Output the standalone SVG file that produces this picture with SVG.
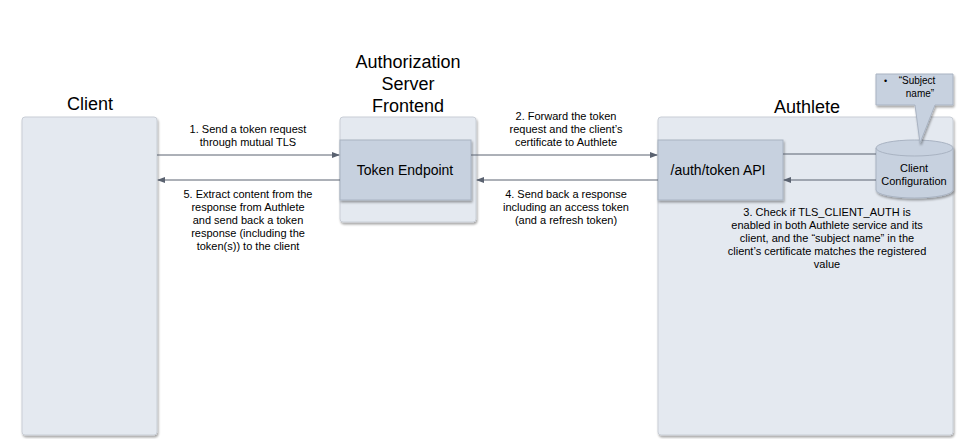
<svg xmlns="http://www.w3.org/2000/svg" width="962" height="439" viewBox="0 0 962 439">
<style>
text{font-family:"Liberation Sans",Arial,sans-serif;fill:#000}
.t{font-size:18px;text-anchor:middle}
.s{font-size:11px;text-anchor:middle}
.big{fill:#e4e9f0;stroke:#c9ced6;stroke-width:1}
.inner{fill:#c7d1df;stroke:#a9b3c2;stroke-width:1}
.c{stroke:#5a6270;stroke-width:1;fill:none}
</style>
<defs>
<marker id="a" markerWidth="8" markerHeight="6" refX="7" refY="3" orient="auto"><path d="M0,0L8,3L0,6z" fill="#5a6270"/></marker>
<filter id="sh"><feDropShadow dx="1" dy="2" stdDeviation="1.2" flood-opacity="0.35"/></filter>
</defs>
<rect width="962" height="439" fill="#fff"/>
<g id="client">
<rect class="big" x="22" y="117" width="135" height="318" rx="3" filter="url(#sh)"/>
<text class="t" x="90" y="110">Client</text>
</g>
<g id="frontend">
<rect class="big" x="340" y="117" width="136" height="105" rx="3" filter="url(#sh)"/>
<text class="t" x="408" y="68">Authorization</text>
<text class="t" x="408" y="90">Server</text>
<text class="t" x="408" y="112">Frontend</text>
</g>
<g id="token-endpoint">
<rect class="inner" x="340" y="140" width="131" height="60" filter="url(#sh)"/>
<text x="405" y="175" font-size="14" text-anchor="middle">Token Endpoint</text>
</g>
<g id="authlete">
<rect class="big" x="658" y="117" width="295" height="318" rx="3" filter="url(#sh)"/>
<text class="t" x="807" y="113">Authlete</text>
</g>
<g id="auth-token-api">
<rect class="inner" x="658" y="140" width="125" height="60" filter="url(#sh)"/>
<text x="718" y="175" font-size="14" text-anchor="middle">/auth/token API</text>
</g>
<g id="client-config">
<path d="M876,148 A38.5,8 0 0 1 953,148 L953,190 A38.5,8 0 0 1 876,190 Z" class="inner" filter="url(#sh)"/>
<path d="M876,148 A38.5,8 0 0 0 953,148" fill="none" stroke="#a9b3c2"/>
<text class="s" x="914" y="172" font-size="10">Client</text>
<text class="s" x="914" y="185" font-size="10">Configuration</text>
</g>
<g id="callout">
<path d="M876,74 H953 V105 H935 L920,143 L915,105 H876 Z" class="inner" filter="url(#sh)"/>
<text x="884" y="84" font-size="9">•</text>
<text x="917" y="84" font-size="10" text-anchor="middle">“Subject</text>
<text x="920" y="97" font-size="10" text-anchor="middle">name”</text>
</g>
<g id="connectors">
<line class="c" x1="157" y1="155" x2="339" y2="155" marker-end="url(#a)"/>
<line class="c" x1="340" y1="180" x2="158" y2="180" marker-end="url(#a)"/>
<line class="c" x1="471" y1="155" x2="657" y2="155" marker-end="url(#a)"/>
<line class="c" x1="658" y1="180" x2="477" y2="180" marker-end="url(#a)"/>
<polyline class="c" points="783,154 876,154"/>
<line class="c" x1="876" y1="180" x2="784" y2="180" marker-end="url(#a)"/>
</g>
<g id="labels">
<text class="s" x="248" y="133">1. Send a token request</text>
<text class="s" x="248" y="146">through mutual TLS</text>
<text class="s" x="248" y="198">5. Extract content from the</text>
<text class="s" x="248" y="211">response from Authlete</text>
<text class="s" x="248" y="224">and send back a token</text>
<text class="s" x="248" y="237">response (including the</text>
<text class="s" x="248" y="250">token(s)) to the client</text>
<text class="s" x="566" y="120">2. Forward the token</text>
<text class="s" x="566" y="133">request and the client’s</text>
<text class="s" x="566" y="146">certificate to Authlete</text>
<text class="s" x="566" y="198">4. Send back a response</text>
<text class="s" x="566" y="211">including an access token</text>
<text class="s" x="566" y="224">(and a refresh token)</text>
<text class="s" x="827" y="216">3. Check if TLS_CLIENT_AUTH is</text>
<text class="s" x="827" y="229">enabled in both Authlete service and its</text>
<text class="s" x="827" y="242">client, and the “subject name” in the</text>
<text class="s" x="827" y="255">client’s certificate matches the registered</text>
<text class="s" x="827" y="268">value</text>
</g>
</svg>
